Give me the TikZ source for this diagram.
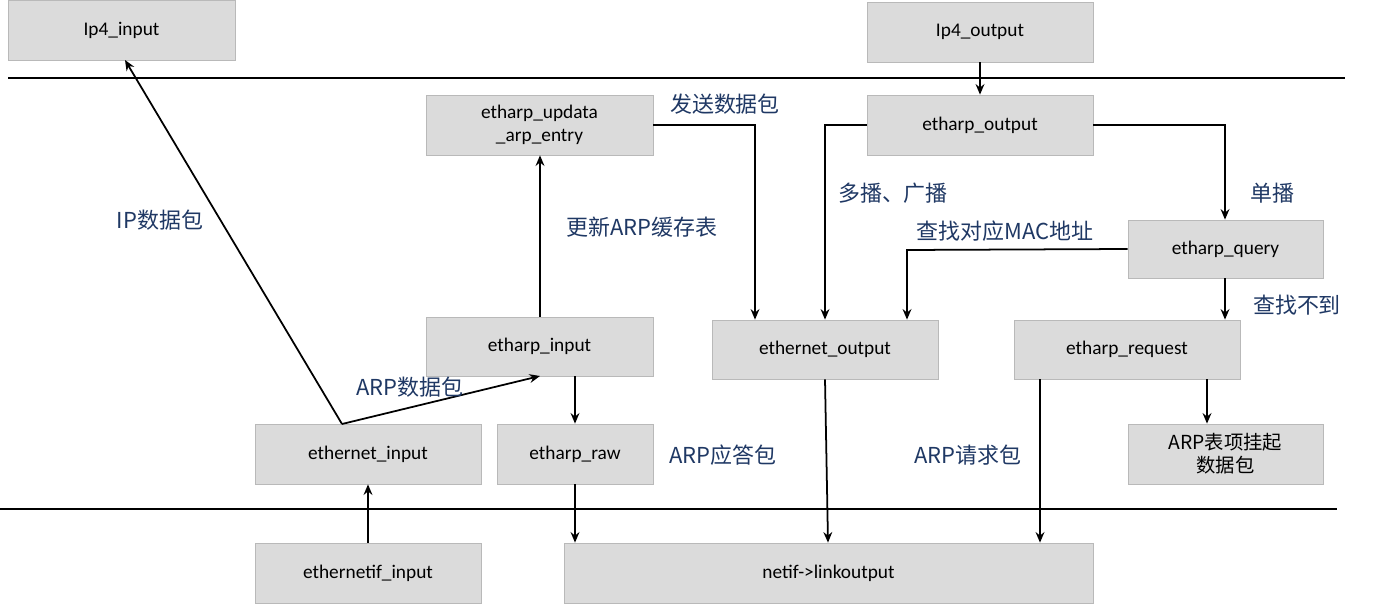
\documentclass[tikz,border=0pt]{standalone}
\usepackage{fontspec}
\setmainfont{Carlito}
\newfontfamily\cjk{Noto Sans CJK SC}
\usetikzlibrary{arrows.meta}
\definecolor{lab}{HTML}{1F3864}
\begin{document}
\begin{tikzpicture}[x=0.02cm,y=-0.02cm,
  bx/.style={draw=gray!55,fill=gray!28,inner sep=0pt,font=\fontsize{11pt}{13pt}\selectfont,align=center},
  ar/.style={-{Stealth[length=6pt,width=5pt]},line width=1pt},
  lb/.style={text=lab,font=\cjk\fontsize{12.5pt}{14pt}\selectfont,inner sep=0pt}]
\useasboundingbox (0,0) rectangle (1378,604);
\newcommand{\bx}[6]{\node[bx,minimum width={(#4-#3)*0.02cm},minimum height={(#6-#5)*0.02cm}] (#1) at ({(#3+#4)/2},{(#5+#6)/2}) {#2};}
\bx{ipin}{Ip4\_input}{8}{235}{0}{60}
\bx{ipout}{Ip4\_output}{867}{1093}{2}{62}
\bx{upd}{etharp\_updata\\\_arp\_entry}{426}{653}{95}{155}
\bx{eout}{etharp\_output}{867}{1093}{95}{155}
\bx{query}{etharp\_query}{1128}{1323}{220}{278}
\bx{ethout}{ethernet\_output}{712}{938}{320}{379}
\bx{req}{etharp\_request}{1014}{1240}{320}{379}
\bx{ein}{etharp\_input}{426}{653}{317}{376}
\bx{ethin}{ethernet\_input}{255}{481}{424}{484}
\bx{raw}{etharp\_raw}{497}{653}{424}{484}
\bx{pend}{\cjk ARP表项挂起\\\cjk 数据包}{1128}{1323}{424}{484}
\bx{eif}{ethernetif\_input}{255}{481}{543}{603}
\bx{link}{netif->linkoutput}{564}{1093}{543}{603}
\draw[line width=1.5pt] (8,78) -- (1345,78);
\draw[line width=1.5pt] (0,509) -- (1337,509);
\draw[ar] (ipout.south) -- (eout.north);
\draw[ar] (eout.east) -- (1225,125) -- (query.north -| 1225,0);
\draw[ar] (eout.west) -- (825,125) -- (ethout.north -| 825,0);
\draw[ar] (query.west) -- (907,250) -- (ethout.north -| 907,0);
\draw[ar] (query.south -| 1225,0) -- (req.north -| 1225,0);
\draw[ar] (upd.east) -- (755,125) -- (ethout.north -| 755,0);
\draw[ar] (ein.north -| 540,0) -- (upd.south -| 540,0);
\coordinate (split) at (342,424);
\draw[ar] (split) -- (540,376);
\draw[ar] (split) -- (125,60);
\draw[ar] (ein.south -| 575,0) -- (raw.north -| 575,0);
\draw[ar] (raw.south -| 575,0) -- (link.north -| 575,0);
\draw[ar] (ethout.south -| 825,0) -- (link.north -| 828,0);
\draw[ar] (req.south -| 1040,0) -- (link.north -| 1040,0);
\draw[ar] (req.south -| 1207,0) -- (pend.north -| 1207,0);
\draw[ar] (eif.north -| 368,0) -- (ethin.south -| 368,0);
\node[lb] at (1272,193) {单播};
\node[lb] at (893,193) {多播、广播};
\node[lb] at (1005,231) {查找对应MAC地址};
\node[lb] at (1297,305) {查找不到};
\node[lb] at (725,104) {发送数据包};
\node[lb] at (642,227) {更新ARP缓存表};
\node[lb] at (410,387) {ARP数据包};
\node[lb] at (160,220) {IP数据包};
\node[lb] at (723,455) {ARP应答包};
\node[lb] at (968,455) {ARP请求包};
\end{tikzpicture}
\end{document}
